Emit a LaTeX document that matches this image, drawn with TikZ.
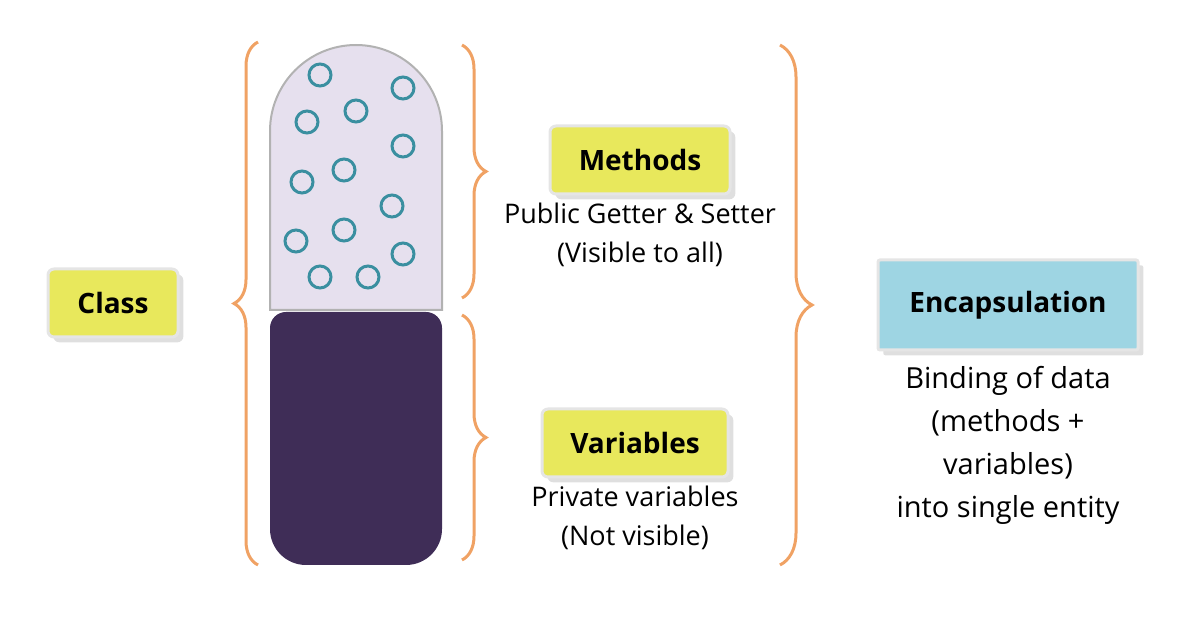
\documentclass[tikz,border=0pt]{standalone}
\usepackage{fontspec}
\setmainfont{Open Sans}
\usetikzlibrary{decorations.pathreplacing,shadows}
\definecolor{labelyellow}{HTML}{E8E85C}
\definecolor{encblue}{HTML}{9ED5E3}
\definecolor{bracecol}{HTML}{F0A264}
\definecolor{pilltop}{HTML}{E6E0EE}
\definecolor{pillbot}{HTML}{3F2D57}
\definecolor{dotcol}{HTML}{3A8FA0}
\begin{document}
\begin{tikzpicture}[x=0.5pt, y=-0.5pt]
    \tikzstyle{label box} = [draw=gray!20, line width=1.5pt, fill=labelyellow, rounded corners=3pt, font=\bfseries\fontsize{14}{16}\selectfont, drop shadow={opacity=0.25}]
    \tikzstyle{note} = [align=center, font=\fontsize{13.5}{19.5}\selectfont]
    \tikzstyle{big note} = [align=center, font=\fontsize{14.5}{21.5}\selectfont]
    \tikzstyle{group brace} = [draw=bracecol, line width=1.5pt, decorate, decoration={brace, amplitude=12pt}]
    \tikzstyle{dot} = [circle, draw=dotcol, line width=1.5pt, minimum size=11pt, inner sep=0pt]
\useasboundingbox (0,0) rectangle (1200,630);
% capsule
\filldraw[fill=pilltop, draw=gray!60, line width=1pt] (270,310) -- (270,131) arc[start angle=180, end angle=360, radius=86] -- (442,310) -- cycle;
\fill[pillbot] (270,440) [rounded corners=8pt] -- (270,312) -- (442,312) [rounded corners=18pt] -- (442,565) -- (270,565) [sharp corners] -- cycle;
\foreach \px/\py [count=\i] in {320/75, 403/88, 356/111, 307/122, 403/146, 344/170, 302/182, 392/206, 296/241, 344/230, 403/254, 320/277, 368/277}
    \node[dot] (dot\i) at (\px,\py) {};
% braces
\draw[group brace] (258,565) -- (258,42);
\draw[group brace] (462,45) -- (462,298);
\draw[group brace] (462,315) -- (462,560);
\draw[group brace, decoration={amplitude=16pt}] (780,45) -- (780,565);
% labels
\node[label box, minimum width=65pt, minimum height=34pt] (class) at (113,303) {Class};
\node[label box, minimum width=90pt, minimum height=34pt] (methods) at (640,160) {Methods};
\node[note, below=0pt] (methodsnote) at (methods.south) {Public Getter \& Setter\\(Visible to all)};
\node[label box, minimum width=93pt, minimum height=34pt] (variables) at (635,443) {Variables};
\node[note, below=0pt] (variablesnote) at (variables.south) {Private variables\\(Not visible)};
\node[label box, fill=encblue, rounded corners=1pt, minimum width=130pt, minimum height=45pt] (encap) at (1008,305) {Encapsulation};
\node[big note, below=4pt] (encapnote) at (encap.south) {Binding of data\\(methods +\\variables)\\into single entity};
\end{tikzpicture}
\end{document}
